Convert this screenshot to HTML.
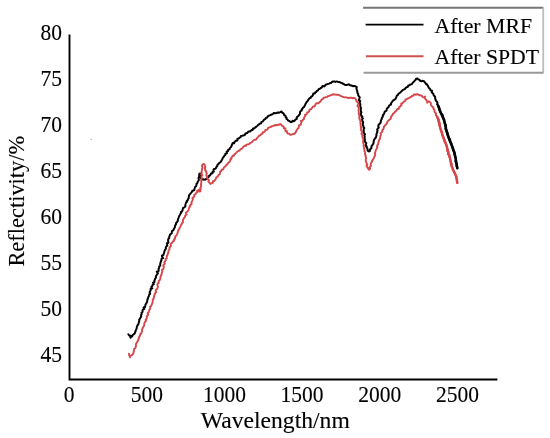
<!DOCTYPE html>
<html><head><meta charset="utf-8"><style>
html,body{margin:0;padding:0;background:#fff;width:550px;height:438px;overflow:hidden}
svg{display:block}
text{font-family:"Liberation Serif",serif;fill:#000;stroke:#000;stroke-width:0.12px}
</style></head><body>
<svg width="550" height="438" viewBox="0 0 550 438">
<rect width="550" height="438" fill="#fff"/>
<g font-size="21.5">
<text transform="translate(62,40.3) scale(1,1.07)" text-anchor="end">80</text>
<text transform="translate(62,86.3) scale(1,1.07)" text-anchor="end">75</text>
<text transform="translate(62,132.3) scale(1,1.07)" text-anchor="end">70</text>
<text transform="translate(62,178.3) scale(1,1.07)" text-anchor="end">65</text>
<text transform="translate(62,224.3) scale(1,1.07)" text-anchor="end">60</text>
<text transform="translate(62,270.2) scale(1,1.07)" text-anchor="end">55</text>
<text transform="translate(62,316.2) scale(1,1.07)" text-anchor="end">50</text>
<text transform="translate(62,362.2) scale(1,1.07)" text-anchor="end">45</text>
<text transform="translate(69.1,402.2) scale(1,1.07)" text-anchor="middle">0</text>
<text transform="translate(146.8,402.2) scale(1,1.07)" text-anchor="middle">500</text>
<text transform="translate(224.4,402.2) scale(1,1.07)" text-anchor="middle">1000</text>
<text transform="translate(302.1,402.2) scale(1,1.07)" text-anchor="middle">1500</text>
<text transform="translate(379.7,402.2) scale(1,1.07)" text-anchor="middle">2000</text>
<text transform="translate(457.4,402.2) scale(1,1.07)" text-anchor="middle">2500</text>
</g>
<text transform="translate(200.8,427.8) scale(1,1.04)" font-size="22" textLength="149" lengthAdjust="spacingAndGlyphs">Wavelength/nm</text>
<text transform="translate(23.5,266.6) rotate(-90) scale(1,1.06)" font-size="21" textLength="130.8" lengthAdjust="spacingAndGlyphs">Reflectivity/%</text>
<circle cx="91.2" cy="139.4" r="0.7" fill="#aaa"/>
<path d="M69.5,34.6 V379.5 H497.4" fill="none" stroke="#000" stroke-width="1.9"/>
<line x1="363.1" y1="7.8" x2="543.4" y2="7.8" stroke="#777" stroke-width="2"/>
<line x1="543.2" y1="7.8" x2="543.2" y2="72.8" stroke="#bdbdbd" stroke-width="1.8"/>
<line x1="363.6" y1="72.8" x2="543.4" y2="72.8" stroke="#9a9a9a" stroke-width="2"/>
<line x1="365.6" y1="24.7" x2="423.5" y2="24.7" stroke="#000" stroke-width="1.7"/>
<line x1="365.9" y1="56.2" x2="423.5" y2="56.2" stroke="#cf524d" stroke-width="2"/>
<text x="434.6" y="32.6" font-size="21.5" textLength="97.5" lengthAdjust="spacingAndGlyphs">After MRF</text>
<text x="434.6" y="63.6" font-size="21.5" textLength="104.5" lengthAdjust="spacingAndGlyphs">After SPDT</text>
<polyline points="128.4,334.2 129.1,335.4 130.7,335.8 130.2,336.9 130.6,337.7 131.1,336.8 132.3,336.4 132.5,335.3 133.1,334.6 134.0,334.1 134.8,333.4 135.0,332.3 135.6,331.5 135.6,330.4 136.2,329.4 136.7,328.4 136.8,327.2 137.2,326.2 137.5,325.3 138.3,324.5 138.6,323.3 138.9,322.1 139.3,321.0 139.2,319.7 140.0,318.6 140.6,317.5 141.2,316.4 141.1,315.1 141.7,314.0 141.6,312.6 142.6,311.7 142.5,310.3 143.1,309.5 144.3,308.9 143.6,307.5 145.0,307.0 145.2,306.0 145.4,304.8 146.1,303.8 146.6,302.7 147.2,301.6 147.3,300.3 147.6,299.1 148.1,298.0 148.4,296.8 149.1,295.8 149.2,294.6 150.2,293.7 149.6,292.3 150.2,291.3 150.7,290.2 150.6,289.0 152.3,288.4 151.3,286.9 152.3,286.0 152.6,284.9 153.8,284.2 153.0,282.6 154.5,282.0 154.3,280.7 154.9,279.8 155.2,278.6 156.0,277.7 155.8,276.4 156.5,275.4 157.0,274.3 157.9,273.4 156.8,271.8 158.5,271.2 158.7,270.0 158.5,268.7 159.2,267.7 159.2,266.5 160.3,265.5 160.2,264.2 160.4,263.1 160.7,262.0 161.1,260.9 161.5,259.8 161.6,258.6 163.0,258.1 162.1,256.6 161.9,255.6 163.4,254.9 163.7,253.8 164.2,252.7 164.3,251.6 164.7,250.6 165.3,249.6 165.9,248.7 165.8,247.5 166.2,246.5 167.3,245.7 167.1,244.5 166.9,243.3 168.4,242.7 168.2,241.5 168.1,240.2 168.3,239.0 169.2,238.1 169.2,236.8 169.6,235.8 170.0,234.8 170.8,234.0 171.7,233.3 171.8,232.1 172.1,230.9 173.3,230.4 173.7,229.3 174.4,228.0 174.9,227.2 175.0,226.0 175.5,225.1 176.0,224.2 176.1,222.9 177.1,222.0 177.8,220.9 177.9,219.6 178.2,218.7 178.6,217.8 178.9,216.8 179.3,215.9 179.9,215.0 180.3,214.0 180.9,213.1 181.0,212.0 182.1,211.4 182.5,210.4 182.7,209.2 183.1,207.9 184.5,207.3 185.4,206.4 185.3,205.0 185.7,203.8 186.1,202.5 186.9,201.9 186.7,201.0 187.7,200.4 187.8,199.3 188.6,198.6 188.7,197.5 188.9,196.5 189.0,195.3 189.8,194.4 190.5,193.5 191.3,192.6 191.9,191.8 192.4,190.8 193.4,190.5 194.4,190.0 194.5,188.8 194.8,187.8 195.2,186.9 196.1,186.2 196.4,185.2 196.4,184.1 197.3,183.4 197.5,182.3 197.9,181.4 198.8,180.4 198.8,179.3 198.5,178.0 199.0,176.9 199.3,175.9 199.1,174.7 199.5,173.7 200.3,173.4 201.2,174.4 200.6,175.7 200.5,176.9 200.9,178.1 201.7,178.9 202.2,179.5 203.1,179.3 204.2,179.7 205.3,179.6 206.2,178.9 206.9,178.1 207.6,177.5 208.6,177.1 208.9,176.0 209.9,175.5 210.6,174.6 211.0,173.6 212.5,173.3 212.5,172.0 213.8,171.6 213.4,169.8 214.0,168.9 215.5,168.8 216.1,167.8 216.5,166.8 217.3,166.0 217.5,164.7 218.5,164.1 219.1,163.1 220.0,162.5 221.0,161.6 221.5,160.5 222.2,159.5 222.6,158.3 223.2,157.4 223.9,156.6 224.4,155.6 225.4,155.0 225.4,153.6 226.9,153.2 226.7,151.6 228.0,151.0 228.2,149.8 229.6,149.4 229.8,148.2 230.6,147.4 231.4,146.5 231.7,145.3 232.2,144.3 232.7,143.1 234.2,143.2 234.4,142.0 235.2,141.4 236.0,140.8 237.4,140.5 237.4,138.7 238.8,138.5 239.5,137.6 240.6,137.2 241.0,135.9 242.1,135.8 243.1,135.6 244.0,135.3 244.9,134.8 245.4,133.5 246.5,133.3 247.4,132.8 248.1,131.9 248.9,131.5 250.1,131.5 250.8,130.8 251.5,130.1 252.6,129.9 253.0,128.6 254.3,128.4 255.1,127.6 256.0,126.9 257.0,126.2 257.8,125.3 258.8,124.6 259.7,123.8 261.0,123.4 261.4,122.0 262.6,121.6 263.4,120.7 264.1,119.6 265.3,119.1 265.8,117.9 267.2,117.6 267.7,116.4 268.6,115.8 269.7,115.4 270.7,114.9 271.6,114.5 272.5,114.2 273.3,113.5 274.1,112.9 275.5,113.2 276.7,113.0 277.8,112.4 279.2,112.7 280.3,112.2 281.6,111.5 282.1,112.7 283.3,113.1 283.9,114.0 284.2,115.2 285.4,115.7 285.5,116.9 286.5,117.6 286.5,118.9 287.5,119.5 288.2,120.6 289.4,121.0 290.1,121.6 291.0,122.2 292.0,121.8 292.6,120.7 293.9,121.3 294.8,120.5 295.4,119.4 296.8,119.0 296.7,117.4 297.6,116.6 298.6,115.7 299.4,114.7 300.0,113.7 300.0,112.2 300.5,111.1 301.7,110.6 301.7,109.3 302.6,108.7 302.8,107.6 304.0,107.1 304.5,106.1 305.0,105.2 305.4,104.1 306.0,103.2 306.4,102.2 307.4,101.2 308.1,100.1 308.9,99.2 309.4,98.2 310.8,97.8 311.1,96.6 312.1,96.2 312.8,95.5 313.0,94.2 313.5,93.4 314.9,93.5 315.3,92.3 316.2,91.8 316.8,91.0 317.9,90.4 318.6,89.2 319.9,88.8 320.8,88.0 321.9,87.4 322.5,86.0 324.1,86.4 325.0,85.7 325.7,84.6 327.0,84.3 328.3,83.9 329.3,83.6 330.1,83.0 331.2,82.9 331.9,82.0 333.1,81.5 334.3,81.5 335.6,81.9 336.8,81.4 338.0,81.9 339.1,81.9 340.0,82.2 340.8,82.8 342.0,83.0 342.9,83.7 343.9,84.1 344.8,84.7 345.7,84.9 346.7,85.0 347.7,84.6 348.9,84.3 349.9,85.1 350.9,85.6 351.9,85.6 352.9,86.2 353.8,86.0 354.6,86.0 355.7,86.5 356.8,87.2 356.4,88.6 356.8,89.6 357.0,90.6 357.4,91.6 357.4,92.9 358.2,94.0 358.2,95.3 359.0,96.3 359.7,97.4 359.3,98.8 358.9,100.1 360.2,101.1 359.4,102.4 360.2,103.4 360.3,104.6 360.3,105.8 360.4,106.9 361.0,107.9 360.8,109.0 360.8,110.1 360.8,111.2 361.5,112.2 360.9,113.4 360.9,114.4 360.8,115.5 362.3,116.4 361.9,117.5 362.8,118.4 362.1,119.6 362.2,120.6 362.9,121.6 363.2,122.7 362.8,123.8 362.8,124.9 363.4,125.9 363.4,127.0 364.3,128.0 363.8,129.1 363.6,130.2 363.8,131.3 363.4,132.4 364.5,133.4 365.0,134.4 364.2,135.5 364.8,136.5 364.6,137.6 364.7,138.6 364.9,139.6 364.8,140.9 365.1,142.1 366.3,143.1 366.0,144.4 365.6,145.6 366.7,146.3 366.6,147.4 367.2,148.2 367.6,149.1 367.5,150.3 368.1,151.0 368.9,151.5 369.8,151.1 369.9,149.9 370.4,149.1 371.3,148.3 371.4,147.3 371.5,146.2 372.3,145.4 372.7,144.4 373.4,143.6 373.6,142.6 373.6,141.5 373.9,140.5 374.4,139.6 374.8,138.6 375.7,137.8 376.1,136.9 376.4,135.8 376.4,134.6 376.6,133.5 377.3,132.6 377.1,131.5 377.6,130.5 377.2,129.4 377.9,128.5 378.8,127.6 378.3,126.3 378.4,125.2 379.1,124.3 380.0,123.5 380.7,122.4 380.9,120.9 381.2,120.0 381.7,119.2 381.7,118.2 382.4,117.4 382.8,116.4 382.8,115.3 383.6,114.5 384.1,113.7 384.4,112.7 384.7,111.7 385.8,111.1 386.6,110.5 386.7,109.0 387.4,108.0 388.4,107.2 389.0,106.1 389.6,105.1 391.0,104.6 390.9,103.3 391.5,102.6 392.1,101.8 392.7,101.0 393.7,100.1 394.9,99.3 395.7,98.7 396.0,97.8 396.4,96.9 396.8,95.7 397.9,95.0 398.4,93.9 399.3,93.2 400.3,92.5 401.0,91.7 401.9,90.9 402.6,90.1 403.7,89.6 405.0,88.9 405.7,87.9 406.7,87.2 407.9,86.8 408.3,85.5 409.5,85.3 410.2,84.5 411.8,84.3 412.4,83.1 413.3,82.2 414.1,81.4 414.8,80.6 415.6,79.9 416.1,78.7 417.4,78.5 418.2,79.4 419.5,79.8 420.2,80.9 421.4,81.3 422.9,80.8 424.3,81.5 424.9,82.3 425.5,83.0 425.9,84.0 427.1,84.5 427.6,85.6 428.2,86.6 428.7,87.7 429.6,88.5 430.3,89.4 430.6,90.4 432.0,90.8 431.7,92.3 432.6,93.2 433.5,94.2 433.7,95.4 434.7,96.3 435.2,97.3 435.1,98.7 435.7,99.5 435.7,100.6 436.7,101.3 437.3,102.1 437.5,103.1 437.0,104.3 437.9,105.1 438.4,105.9 438.9,106.8 439.3,107.7 439.3,108.7 439.5,109.7 439.6,110.7 439.9,111.6 440.6,112.4 441.2,113.2 441.7,114.1 442.6,114.8 442.7,115.9 442.7,117.1 443.3,117.9 443.4,118.8 444.3,119.5 443.9,120.7 444.4,121.9 444.8,123.1 445.0,124.3 446.1,125.3 445.7,126.5 446.1,127.6 445.4,129.0 446.4,129.9 446.8,131.0 446.7,132.3 447.7,133.2 447.2,134.6 448.2,135.5 448.4,136.7 449.0,137.7 448.8,138.8 450.2,139.3 449.6,140.7 450.5,141.4 450.6,142.4 451.4,143.4 451.4,144.7 451.9,145.9 452.2,147.1 452.6,148.0 452.9,149.1 453.1,150.1 453.9,151.2 454.6,152.3 454.9,153.4 454.5,154.7 455.2,155.7 455.0,156.9 455.6,157.9 456.1,159.0 455.6,160.3 455.4,161.5 456.3,162.5 456.7,163.6 456.9,164.8 456.5,166.0 457.3,167.0 457.3,168.2" fill="none" stroke="#000" stroke-width="2" stroke-linejoin="round" stroke-linecap="round"/>
<polyline points="129.0,353.8 129.1,355.0 129.7,356.2 129.9,357.3 130.1,356.4 130.7,355.6 132.0,355.2 132.8,354.3 133.4,353.3 133.5,352.2 133.9,351.2 134.2,350.2 134.0,349.0 135.2,348.2 135.6,347.1 136.0,346.0 135.8,344.6 136.2,343.5 136.9,342.5 137.4,341.6 138.1,340.6 138.3,339.5 138.9,338.5 138.9,337.4 139.6,336.4 140.1,335.4 140.2,334.1 141.4,333.4 141.5,332.2 142.2,331.2 142.0,329.9 142.3,328.9 142.8,328.0 143.3,327.0 143.9,326.1 144.2,325.0 144.3,323.9 144.5,322.8 145.1,321.8 146.0,321.0 145.7,319.7 146.5,318.8 146.9,317.7 146.7,316.4 147.5,315.5 148.3,314.6 147.6,313.2 148.6,312.3 149.0,311.3 149.2,310.1 150.0,309.2 150.2,308.1 150.1,306.8 151.2,306.0 151.6,304.9 152.0,303.9 152.5,302.9 152.6,301.7 152.8,300.6 152.8,299.4 153.8,298.5 153.7,297.3 154.2,296.2 154.3,295.0 154.8,294.0 155.3,293.0 156.3,292.1 155.6,290.6 156.1,289.6 157.1,288.7 157.8,287.6 157.9,286.3 157.4,284.8 157.5,283.7 158.8,283.0 158.7,281.8 158.9,280.7 159.9,279.9 160.3,278.8 160.3,277.7 160.6,276.6 160.9,275.6 161.6,274.6 161.6,273.5 162.0,272.4 162.3,271.3 162.0,269.9 163.3,269.1 163.6,268.0 163.8,266.9 163.2,265.6 164.0,264.6 164.8,263.7 164.2,262.4 165.0,261.5 165.8,260.5 165.4,259.2 166.7,258.4 166.7,257.2 166.9,256.0 167.3,255.1 167.8,254.2 167.9,253.2 168.6,252.4 168.3,251.3 168.7,250.3 169.5,249.5 169.5,248.4 169.5,247.4 170.5,246.6 171.0,245.7 170.7,244.5 171.0,243.5 172.0,242.9 172.7,242.1 173.1,241.2 174.2,240.6 174.0,239.3 175.2,238.6 175.0,237.2 175.6,236.2 176.5,235.3 177.1,234.3 177.5,233.2 177.7,232.2 178.0,231.2 178.6,230.0 179.4,228.9 179.6,227.8 180.2,227.0 180.7,226.1 181.0,225.1 181.7,224.1 182.1,222.9 183.0,222.0 182.9,220.6 183.1,219.6 183.6,218.7 184.2,217.8 185.0,217.0 185.0,215.9 185.7,215.1 186.6,214.4 185.8,212.7 187.2,211.8 188.0,210.9 188.5,209.8 188.9,208.6 189.1,207.7 189.8,207.0 190.1,206.1 190.3,205.0 191.6,204.4 191.4,203.1 191.6,202.0 192.1,201.1 192.5,200.1 192.9,199.2 192.4,198.0 193.4,197.4 194.4,196.4 194.2,194.8 195.1,194.2 195.9,193.5 196.3,192.7 197.2,192.1 197.2,190.6 198.2,190.3 199.0,189.6 199.1,190.7 199.2,191.6 199.5,191.5 200.5,191.3 199.9,190.1 200.8,189.1 200.3,187.8 200.9,186.8 201.3,185.6 200.9,184.4 201.1,183.3 201.4,182.2 201.2,181.0 201.2,179.8 201.8,178.7 201.7,177.6 201.3,176.4 202.4,175.3 201.1,174.1 201.9,173.0 201.6,171.9 201.8,170.7 202.0,169.6 202.1,168.5 202.5,167.3 202.0,166.0 202.2,164.8 203.5,164.0 204.5,164.3 204.9,165.6 205.5,166.9 204.8,168.2 205.2,169.2 205.2,170.4 206.3,171.3 206.2,172.4 206.8,173.4 206.4,174.6 206.4,175.7 207.5,176.5 206.9,177.7 207.4,178.7 208.1,179.5 209.0,180.3 208.3,181.6 209.1,182.4 209.9,183.0 210.5,183.9 211.6,183.2 212.9,182.8 212.9,181.3 214.2,181.0 215.0,180.2 215.7,179.3 215.9,178.1 216.5,177.2 217.6,176.8 218.1,175.7 218.7,174.9 219.8,174.2 220.0,172.9 220.1,171.6 221.3,171.0 221.6,169.7 223.0,169.5 223.5,168.5 224.0,167.5 224.8,166.8 225.7,166.2 226.2,165.1 227.3,164.5 227.6,163.4 228.6,162.7 229.4,161.8 230.2,160.9 230.3,159.4 231.4,158.8 231.4,157.4 232.3,156.7 232.7,155.7 234.2,155.5 234.3,154.3 235.2,153.9 235.9,153.2 236.6,152.5 237.4,151.5 238.5,150.9 239.8,150.5 240.3,149.3 241.3,148.8 242.3,148.3 243.0,147.3 243.7,146.3 244.8,145.8 246.0,145.9 246.4,144.6 247.5,144.4 248.6,144.4 249.4,143.8 250.0,143.0 251.3,142.6 252.3,141.8 253.0,140.8 253.8,140.1 254.9,139.7 256.2,139.5 256.8,138.3 257.6,137.4 258.5,136.6 259.2,135.6 260.5,135.2 261.2,134.1 262.5,133.7 262.8,132.2 264.3,132.1 265.0,131.0 265.5,129.9 267.1,129.8 267.8,128.8 268.3,127.6 269.5,127.3 270.7,127.0 271.4,126.3 272.5,126.2 273.4,125.8 274.3,125.3 275.4,125.0 276.7,125.2 277.9,124.8 279.1,124.8 280.3,123.9 281.4,124.9 281.9,125.7 283.0,126.1 283.8,126.9 283.7,128.3 285.4,128.5 285.4,129.8 285.4,131.1 287.0,131.3 287.1,132.6 287.8,133.6 289.1,133.6 289.9,134.5 291.1,134.8 292.2,134.4 293.4,134.0 294.7,133.5 295.5,132.6 296.0,131.5 296.6,130.6 297.1,129.5 297.7,128.7 298.6,128.0 298.8,127.0 298.9,125.9 299.4,125.0 300.9,124.6 301.0,123.5 301.4,122.5 300.9,121.0 302.4,120.7 302.9,119.8 303.9,119.1 304.0,117.9 304.5,116.9 305.2,116.1 305.0,114.7 306.5,114.5 306.9,113.5 307.2,112.5 308.3,112.1 309.2,111.5 309.3,110.0 310.2,109.4 311.2,109.0 311.8,108.2 312.4,107.3 313.0,106.5 314.4,106.6 315.1,105.5 315.6,104.1 316.6,103.2 318.3,103.3 319.1,102.3 320.3,101.7 321.1,100.7 321.7,99.4 323.0,99.0 323.6,97.6 324.8,97.5 326.0,97.1 327.2,96.9 328.2,96.1 329.2,95.8 330.2,95.5 331.1,95.1 332.0,94.7 333.1,94.5 334.4,94.3 335.6,94.6 336.8,94.7 338.1,94.8 339.3,95.2 340.1,95.7 341.1,96.1 342.0,96.5 342.9,96.8 344.1,97.2 345.3,97.4 346.5,97.4 347.7,97.9 348.9,98.0 350.0,97.8 351.2,97.7 352.4,98.2 353.8,97.9 355.2,98.3 355.9,99.6 356.7,100.4 356.6,101.5 357.7,102.2 358.4,103.3 358.1,104.5 357.4,105.9 358.3,106.9 358.8,107.9 358.8,109.0 358.5,110.1 358.6,111.2 358.9,112.2 358.6,113.4 359.0,114.4 359.4,115.4 359.4,116.5 359.2,117.7 359.6,118.7 359.7,119.8 360.6,120.7 360.5,121.8 360.3,122.9 360.8,124.0 360.5,125.1 360.8,126.1 360.9,127.3 361.4,128.3 360.7,129.5 361.3,130.6 362.0,131.6 362.0,132.7 361.4,133.9 362.5,134.9 362.3,136.0 362.4,137.1 362.9,138.1 363.4,139.1 363.1,140.2 363.2,141.3 363.1,142.4 363.3,143.4 363.7,144.5 363.6,145.6 363.8,146.7 364.1,147.8 364.3,148.9 364.5,150.0 364.4,151.1 365.1,152.2 365.1,153.3 365.0,154.5 365.7,155.5 365.5,156.7 366.2,157.7 365.9,158.9 365.7,160.2 365.9,161.3 366.3,162.4 366.6,163.6 367.3,164.4 366.4,165.7 367.2,166.5 367.3,167.5 368.2,168.3 368.5,169.3 368.9,169.7 369.6,169.5 370.1,168.5 369.7,167.2 370.6,166.4 371.1,165.5 370.6,164.3 370.9,163.4 371.4,162.5 372.0,161.6 372.1,160.5 373.0,159.7 373.4,158.8 373.9,157.9 374.3,156.7 375.0,155.7 375.2,154.5 374.8,153.1 375.4,152.0 375.6,151.0 375.9,150.0 376.5,149.2 376.9,148.2 377.3,147.3 377.0,146.1 377.4,145.2 378.1,144.3 378.3,143.2 378.5,142.2 378.9,141.2 378.9,140.1 379.8,139.2 380.0,138.1 380.3,137.0 380.4,135.8 380.9,134.8 380.6,133.3 381.6,132.4 382.4,131.4 382.3,130.0 383.3,129.2 383.7,128.2 383.7,127.0 384.5,126.2 385.1,125.2 386.0,124.5 386.7,123.6 387.2,122.5 387.7,121.3 388.7,120.5 389.3,119.8 390.2,119.2 390.7,118.4 391.0,117.2 391.3,116.2 392.2,115.5 392.7,114.4 393.4,113.4 394.4,112.8 395.1,111.8 396.0,111.0 396.8,110.1 397.3,109.0 398.9,108.8 399.1,107.2 400.3,106.7 400.7,105.7 401.6,105.2 401.2,103.7 402.4,103.1 403.3,102.4 404.1,101.5 405.3,100.9 405.4,99.6 406.7,99.3 407.8,98.5 408.8,98.2 409.6,97.7 410.5,97.2 411.5,96.7 412.1,95.6 413.4,95.7 414.0,94.5 415.1,94.5 416.1,94.7 417.2,94.1 418.3,94.4 419.3,95.2 420.6,95.3 421.7,95.7 422.3,96.6 423.3,97.4 424.3,97.2 425.2,96.5 424.8,97.8 425.1,98.7 426.0,99.4 426.4,100.4 427.1,101.2 427.2,102.7 428.2,101.5 429.1,101.5 430.0,102.2 430.8,103.2 431.0,104.5 431.4,105.7 432.4,106.6 433.3,107.5 433.5,108.8 434.2,109.6 434.5,110.6 434.6,111.7 435.1,112.6 436.1,113.5 435.7,115.0 436.8,115.9 437.0,117.1 437.9,117.8 438.0,118.8 438.9,119.5 438.1,120.8 438.4,121.7 439.5,122.5 439.7,123.4 440.0,124.4 439.3,125.7 440.1,126.6 440.2,127.7 440.6,128.8 440.9,129.8 441.5,130.7 441.5,131.8 442.3,132.7 442.1,133.7 442.2,134.6 442.4,135.6 443.1,136.5 443.6,137.4 443.7,138.6 444.3,139.5 444.0,140.7 444.6,141.5 445.3,142.3 445.8,143.2 446.2,144.1 446.7,145.3 446.8,146.5 447.0,147.7 447.2,148.8 447.5,149.9 447.2,151.1 448.4,151.9 448.4,153.0 447.8,154.3 449.6,154.8 449.5,155.9 449.5,157.0 449.8,158.0 450.1,159.0 450.5,160.0 450.5,161.0 450.8,162.0 450.7,163.1 451.8,163.9 451.8,165.2 451.8,166.6 452.6,167.6 453.1,168.8 453.0,170.2 453.9,170.9 454.0,172.0 454.4,172.9 455.0,173.7 455.3,174.7 455.8,175.5 456.5,176.3 456.4,177.4 456.4,178.5 456.9,179.5 457.0,180.6 456.9,181.8 457.3,182.8" fill="none" stroke="#d6464a" stroke-width="1.9" stroke-linejoin="round" stroke-linecap="round"/>
<polyline points="438.2,106.0 439.6,109.6 441.0,113.3 442.8,117.0 444.2,120.6 445.1,124.3 446.0,128.8 447.3,133.3 448.7,137.8 450.6,142.4 452.4,147.0 453.4,150.0 454.2,152.4 455.6,157.9 456.4,163.7 457.3,168.2" fill="none" stroke="#000" stroke-width="2.6" stroke-linejoin="round" stroke-linecap="round"/>
<polyline points="437.3,117.0 438.7,120.6 439.4,124.5 440.5,128.8 441.8,132.8 442.6,135.5 444.1,139.6 446.0,144.2 447.4,148.8 448.7,154.0 450.2,159.0 451.2,164.0 451.8,166.6 453.2,170.1 455.1,173.7 456.4,177.4 457.3,182.8" fill="none" stroke="#d6464a" stroke-width="2.5" stroke-linejoin="round" stroke-linecap="round"/>
</svg>
</body></html>
